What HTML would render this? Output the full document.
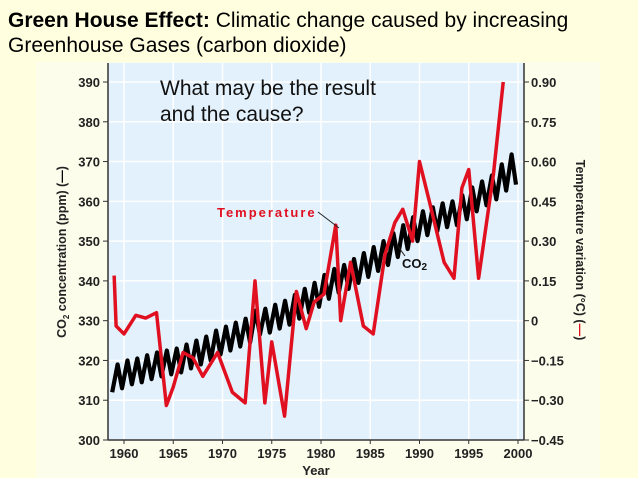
<!DOCTYPE html>
<html><head><meta charset="utf-8"><style>
body{margin:0;background:#ffffe0;width:638px;height:478px;overflow:hidden;font-family:"Liberation Sans",sans-serif}
svg{position:absolute;left:0;top:0}
</style></head><body>
<svg width="638" height="478">
<text x="8" y="27" font-size="21" fill="#000"><tspan font-weight="bold">Green House Effect:</tspan>  Climatic change caused by increasing</text>
<text x="8" y="52" font-size="21" fill="#000">Greenhouse Gases (carbon dioxide)</text>
<rect x="36" y="62" width="564" height="416" fill="#fdfdec"/>
<g id="plot"></g>
</svg>
<script>
const years=[1960,1965,1970,1975,1980,1985,1990,1995,2000];
const co2Ticks=[300,310,320,330,340,350,360,370,380,390];
const tempTicks=["0.90","0.75","0.60","0.45","0.30","0.15","0","\u22120.15","\u22120.30","\u22120.45"];
const tempTickVals=[0.9,0.75,0.6,0.45,0.3,0.15,0,-0.15,-0.3,-0.45];
const co2Years=[1958,1959,1960,1961,1962,1963,1964,1965,1966,1967,1968,1969,1970,1971,1972,1973,1974,1975,1976,1977,1978,1979,1980,1981,1982,1983,1984,1985,1986,1987,1988,1989,1990,1991,1992,1993,1994,1995,1996,1997,1998,1999];
const co2Mean=[315,316,317,317.5,318.3,319,319.5,320,321,322,323,324.5,325.5,326.5,327.5,329.5,330,331,332,333.5,335,336.5,338.5,340,341,342.5,344,345.5,347,349,351,353,354.5,355.5,356.5,357,358.5,360.5,362,363.5,366,368];
const co2Amp=[3,3,3,3,3,3,3,3,3,3,3,3,3,3,3,3,3,3,3,3,3,3,3,3,3,3,3,3,3,3,3,3,3,3,3,3,3,3,3,3,3.3,3.8];
const tempYears=[1959,1959.2,1960,1961.2,1962.2,1963.3,1964.3,1965,1966,1967,1968,1969.5,1971,1972.3,1973.3,1974.3,1975,1976.3,1977.5,1978.5,1979.3,1980.3,1981.5,1982,1983,1984.3,1985.3,1986.5,1987.5,1988.3,1989.3,1990,1991,1992.5,1993.5,1994.3,1995,1996,1997.5,1998.5];
const tempVals=[0.17,-0.02,-0.05,0.02,0.01,0.03,-0.32,-0.25,-0.12,-0.14,-0.21,-0.12,-0.27,-0.31,0.15,-0.31,-0.08,-0.36,0.11,-0.03,0.07,0.10,0.36,0.0,0.22,-0.02,-0.05,0.25,0.37,0.42,0.30,0.60,0.45,0.22,0.16,0.50,0.57,0.16,0.55,0.90];

const NS="http://www.w3.org/2000/svg";
const g=document.getElementById('plot');
const L=108,R=524,T=63,B=440;
const xs=y=>124+(y-1960)*(518-124)/40;
const yc=v=>440-(v-300)*(440-82)/90;
const yt=v=>440-(v+0.45)*(440-82)/1.35;
function mk(tag,attrs){const e=document.createElementNS(NS,tag);for(const k in attrs)e.setAttribute(k,attrs[k]);g.appendChild(e);return e;}
let e=mk('rect',{x:L,y:T,width:R-L,height:B-T,fill:'#e3f1fc'});


years.forEach(y=>{const l=mk('line',{x1:xs(y),x2:xs(y),y1:T,y2:B,stroke:'#fff','stroke-width':1.5});

});
co2Ticks.forEach(v=>{const l=mk('line',{x1:L,x2:R,y1:yc(v),y2:yc(v),stroke:'#fff','stroke-width':1.5});

});
['L','R'].forEach(s=>{const x=s=='L'?L:R;const l=mk('line',{x1:x,x2:x,y1:T,y2:B,stroke:'#333','stroke-width':1.5});

});
const bx=mk('line',{x1:L,x2:R,y1:B,y2:B,stroke:'#333','stroke-width':1.5});


co2Ticks.forEach(v=>{mk('line',{x1:L-5,x2:L,y1:yc(v),y2:yc(v),stroke:'#333'});
const t=mk('text',{x:L-8,y:yc(v)+5,'text-anchor':'end','font-size':13,'font-weight':'bold',fill:'#222'});t.textContent=v;

});
tempTickVals.forEach((v,i)=>{mk('line',{x1:R,x2:R+5,y1:yt(v),y2:yt(v),stroke:'#333'});
const t=mk('text',{x:R+7,y:yt(v)+5,'font-size':13,'font-weight':'bold',fill:'#222'});t.textContent=tempTicks[i];

});
years.forEach(y=>{mk('line',{x1:xs(y),x2:xs(y),y1:B,y2:B+4,stroke:'#333'});
const t=mk('text',{x:xs(y),y:B+18,'text-anchor':'middle','font-size':13,'font-weight':'bold',fill:'#222'});t.textContent=y;

});
let t=mk('text',{x:316,y:475,'text-anchor':'middle','font-size':13,'font-weight':'bold',fill:'#222'});t.textContent='Year';


t=mk('text',{transform:'translate(66,252) rotate(-90)','text-anchor':'middle','font-size':12.5,'font-weight':'bold',fill:'#222'});
t.innerHTML='CO<tspan font-size="8" dy="3">2</tspan><tspan dy="-3"> concentration (ppm) (</tspan><tspan fill="#000">\u2014</tspan>)';


t=mk('text',{transform:'translate(576,250) rotate(90)','text-anchor':'middle','font-size':12.5,'font-weight':'bold',fill:'#222'});
t.innerHTML='Temperature variation (°C) (<tspan fill="#e01020">\u2014</tspan>)';


let pts=[];
co2Years.forEach((y,i)=>{pts.push([xs(y+0.35),yc(co2Mean[i]+co2Amp[i])]);pts.push([xs(y+0.8),yc(co2Mean[i]-co2Amp[i])]);});
pts=pts.filter(p=>p[0]>=L&&p[0]<=R);
e=mk('polyline',{points:pts.map(p=>p.join(',')).join(' '),fill:'none',stroke:'#000','stroke-width':4.2,'stroke-linejoin':'round'});


e=mk('polyline',{points:tempYears.map((y,i)=>xs(y)+','+yt(tempVals[i])).join(' '),fill:'none',stroke:'#e01020','stroke-width':3.5,'stroke-linejoin':'round'});


mk('line',{x1:318,y1:212,x2:339,y2:228,stroke:'#222','stroke-width':1});
t=mk('text',{x:217,y:217,'font-size':13,'font-weight':'bold',fill:'#e01020','letter-spacing':'1.4',textLength:99});t.textContent='Temperature';


mk('line',{x1:397,y1:245,x2:405,y2:256,stroke:'#222','stroke-width':1});
t=mk('text',{x:402,y:268,'font-size':13,'font-weight':'bold',fill:'#111'});t.innerHTML='CO<tspan font-size="10" dy="2">2</tspan>';


t=mk('text',{x:160,y:95,'font-size':21,fill:'#111'});t.textContent='What may be the result';


t=mk('text',{x:160,y:121,'font-size':21,fill:'#111'});t.textContent='and the cause?';


</script>
</body></html>
